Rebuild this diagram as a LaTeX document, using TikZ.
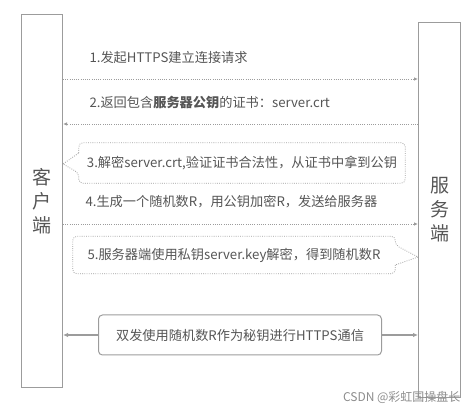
\documentclass[tikz,border=0pt]{standalone}
\usepackage{fontspec}
\setmainfont{Noto Sans CJK SC}
\usetikzlibrary{calc,arrows.meta}

\definecolor{linegray}{HTML}{9C9C9C}
\definecolor{txtgray}{HTML}{555555}

\begin{document}
\begin{tikzpicture}[x=1pt,y=-1pt,
  lane/.style={draw=linegray,line width=1pt,text=txtgray,align=center,
    font=\fontsize{19}{24}\selectfont},
  msg/.style={text=txtgray,anchor=west,font=\fontsize{13.2}{15}\selectfont},
  dotline/.style={draw=linegray,line width=0.8pt,dash pattern=on 0.8pt off 1.4pt,
    -{Latex[length=4pt,width=3.5pt]}},
  fullline/.style={draw=linegray,line width=1.2pt,-{Latex[length=5pt,width=4.5pt]}},
  note/.style={text=txtgray,font=\fontsize{13.2}{15}\selectfont},
  notebox/.style={draw=linegray,line width=0.8pt,dash pattern=on 0.8pt off 1.4pt,
    rounded corners=4pt}]
\useasboundingbox (0,0) rectangle (474,411);

\node[lane,minimum width=41,minimum height=373,anchor=north west] (cli) at (21,14) {客\\户\\端};
\node[lane,minimum width=42,minimum height=375,anchor=north west] (srv) at (418,22) {服\\务\\端};

\node[msg] (m1) at (86,58) {1.发起HTTPS建立连接请求};
\draw[dotline] (cli.east |- 0,79) -- (srv.west |- 0,79);

\node[msg] (m2) at (86,103) {2.返回包含\textbf{服务器公钥}的证书：server.crt};
\draw[dotline] (srv.west |- 0,124) -- (cli.east |- 0,124);

% bubble 3, points to the client
\node[note,minimum width=326,minimum height=40] (n3) at (242,163)
  {3.解密server.crt,验证证书合法性，从证书中拿到公钥};
\coordinate (p3) at (cli.east |- 0,164);
\draw[notebox] ($(n3.west)+(0,-10)$) |- (n3.north east) |- (n3.south west)
  -- ($(n3.west)+(0,10)$) [sharp corners] -- (p3) -- cycle;

\node[msg] (m4) at (82,202) {4.生成一个随机数R，用公钥加密R，发送给服务器};
\draw[dotline] (cli.east |- 0,224) -- (srv.west |- 0,224);

% bubble 5, points to the server
\node[note,minimum width=322,minimum height=37] (n5) at (234,255)
  {5.服务器端使用私钥server.key解密，得到随机数R};
\coordinate (p5) at (srv.west |- 0,257);
\draw[notebox] ($(n5.east)+(0,10)$) |- (n5.south west) |- (n5.north east)
  -- ($(n5.east)+(0,-10)$) [sharp corners] -- (p5) -- cycle;

\node[draw=linegray,line width=1pt,rounded corners=4pt,minimum width=283,
  minimum height=40,text=txtgray,font=\fontsize{13.2}{15}\selectfont] (both) at (240,335)
  {双发使用随机数R作为秘钥进行HTTPS通信};
\draw[fullline] (both) -- (cli.east |- both);
\draw[fullline] (both) -- (srv.west |- both);

\node[text=black!45,anchor=east,font=\fontsize{12}{14}\selectfont] (mark) at (464,397)
  {CSDN @彩虹国操盘长};
\end{tikzpicture}
\end{document}
